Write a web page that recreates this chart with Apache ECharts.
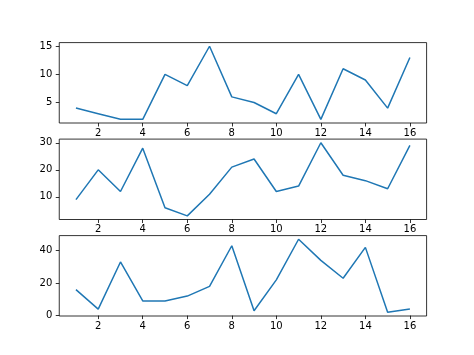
<!DOCTYPE html>
<html><head><meta charset="utf-8">
<script src="https://cdn.jsdelivr.net/npm/echarts@6/dist/echarts.min.js"></script>
<style>html,body{margin:0;padding:0;background:#fff}#c{width:474px;height:355px}</style>
</head><body><div id="c"></div>
<script>
const xValues = [1,2,3,4,5,6,7,8,9,10,11,12,13,14,15,16];
const series1 = [4,3,2,2,10,8,15,6,5,3,10,2,11,9,4,13];
const series2 = [9,20,12,28,6,3,11,21,24,12,14,30,18,16,13,29];
const series3 = [16,4,33,9,9,12,18,43,3,22,47,34,23,42,2,4];
const xTicks = [2,4,6,8,10,12,14,16];
const yTicks1 = [5,10,15];
const yTicks2 = [10,20,30];
const yTicks3 = [0,20,40];

const allSeries = [series1, series2, series3];
const allYTicks = [yTicks1, yTicks2, yTicks3];
const tops = [42.6, 139.1, 235.6];
const h = 80.4;

function pad(arr){const mn=Math.min(...arr),mx=Math.max(...arr),m=(mx-mn)*0.05;return [mn-m,mx+m];}

const font = {fontFamily:'DejaVu Sans', fontSize:10, color:'#000'};
const grids=[],xAxes=[],yAxes=[],ser=[];
allSeries.forEach((s,i)=>{
  grids.push({left:59.25, top:tops[i], width:367.35, height:h, show:true, borderColor:'#000', borderWidth:0.8, containLabel:false});
  const xr = pad(xValues);
  xAxes.push({type:'value', gridIndex:i, min:xr[0], max:xr[1],
    axisLine:{show:false}, splitLine:{show:false},
    axisTick:{show:true, length:3.5, lineStyle:{color:'#000', width:0.8}, customValues:xTicks},
    axisLabel:Object.assign({show:true, margin:5, customValues:xTicks}, font)});
  const yr = pad(s);
  yAxes.push({type:'value', gridIndex:i, min:yr[0], max:yr[1],
    axisLine:{show:false}, splitLine:{show:false},
    axisTick:{show:true, length:3.5, lineStyle:{color:'#000', width:0.8}, customValues:allYTicks[i]},
    axisLabel:Object.assign({show:true, margin:7, customValues:allYTicks[i]}, font)});
  ser.push({type:'line', xAxisIndex:i, yAxisIndex:i, data:xValues.map((x,j)=>[x,s[j]]),
    symbol:'none', lineStyle:{color:'#1f77b4', width:1.5}, animation:false});
});
const chart = echarts.init(document.getElementById('c'));
chart.setOption({animation:false, grid:grids, xAxis:xAxes, yAxis:yAxes, series:ser});
</script></body></html>
